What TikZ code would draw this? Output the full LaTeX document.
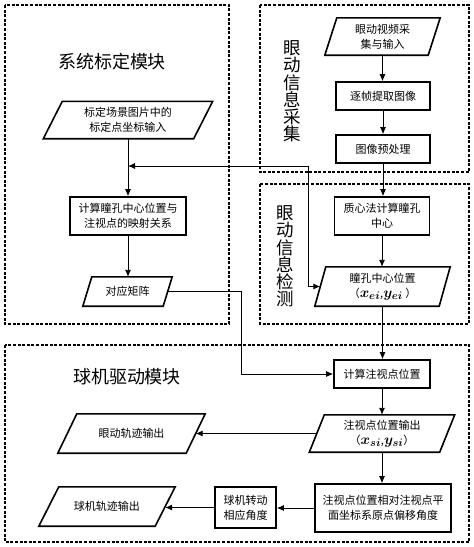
\documentclass[tikz,border=0pt]{standalone}
\usepackage{fontspec}
\usepackage{amsmath}
\setmainfont{Noto Sans CJK SC}
\usetikzlibrary{arrows.meta}
\tikzset{
  box/.style={draw=black, line width=1.6pt, rectangle, inner sep=0pt, align=center,
    font=\fontsize{11}{15}\selectfont},
  paraline/.style={draw=black, line width=1.6pt, line join=miter},
  para/.style={rectangle, inner sep=0pt, align=center, font=\fontsize{11}{15}\selectfont,
    append after command={\pgfextra{\draw[paraline]
      ([xshift=#1]\tikzlastnode.north west) -- ([xshift=#1]\tikzlastnode.north east)
      -- ([xshift=-#1]\tikzlastnode.south east) -- ([xshift=-#1]\tikzlastnode.south west) -- cycle;}}},
  arr/.style={line width=0.9pt, -{Latex[length=7pt,width=6pt]}},
  arrb/.style={line width=0.9pt, {Latex[length=7pt,width=6pt]}-{Latex[length=7pt,width=6pt]}},
  module/.style={draw=black, line width=1.4pt, dash pattern=on 3pt off 1.6pt},
  htitle/.style={font=\fontsize{18}{18}\selectfont, inner sep=0pt},
  vtitle/.style={font=\fontsize{17.5}{17.2}\selectfont, align=center, inner sep=0pt},
}
\newcommand{\bmth}[1]{{\fontsize{15}{15}\selectfont\boldmath$#1$}}
\begin{document}
\begin{tikzpicture}[x=1pt,y=-1pt]
\useasboundingbox (0,0) rectangle (474,547);
% module frames
\draw[module] (5,5) rectangle (229,324);
\draw[module] (260,5) rectangle (469,172);
\draw[module] (260,184) rectangle (469,324);
\draw[module] (5,345) rectangle (469,542);
% titles
\node[htitle] (t1) at (112,62) {系统标定模块};
\node[vtitle] (t2) at (292,91.5) {眼\\动\\信\\息\\采\\集};
\node[vtitle] (t3) at (285,256.5) {眼\\动\\信\\息\\检\\测};
\node[htitle] (t4) at (127,377) {球机驱动模块};
% left column
\node[para=9.5pt, minimum width=150pt, minimum height=37pt] (calin) at (128,120) {标定场景图片中的\\标定点坐标输入};
\node[box, minimum width=116pt, minimum height=38pt] (map) at (128,216) {计算瞳孔中心位置与\\注视点的映射关系};
\node[para=4.5pt, minimum width=80pt, minimum height=29pt] (mat) at (127.5,291.5) {对应矩阵};
% right column
\node[para=6pt, minimum width=103pt, minimum height=37pt] (vid) at (382.5,36.5) {眼动视频采\\集与输入};
\node[box, minimum width=94pt, minimum height=28pt] (frame) at (383,96) {逐帧提取图像};
\node[box, minimum width=94pt, minimum height=28pt] (pre) at (383,149) {图像预处理};
\node[box, minimum width=95pt, minimum height=38pt] (cent) at (382,216) {质心法计算瞳孔\\中心};
\node[para=5.5pt, minimum width=124pt, minimum height=39pt] (pupil) at (382.5,286.5) {瞳孔中心位置\\（\bmth{x_{ei}},\bmth{y_{ei}} ）};
\node[box, minimum width=96pt, minimum height=28pt] (calc) at (382,374) {计算注视点位置};
\node[para=7.5pt, minimum width=130pt, minimum height=37pt] (gaze) at (382,433.5) {注视点位置输出\\（\bmth{x_{si}},\bmth{y_{si}}）};
\node[box, minimum width=136pt, minimum height=48pt] (off) at (383,508) {注视点位置相对注视点平\\面坐标系原点偏移角度};
\node[box, minimum width=61pt, minimum height=41pt] (rot) at (245.5,507.5) {球机转动\\相应角度};
\node[para=9.5pt, minimum width=128pt, minimum height=39pt] (eyetr) at (131.5,433.5) {眼动轨迹输出};
\node[para=10pt, minimum width=116pt, minimum height=39pt] (balltr) at (107,506.5) {球机轨迹输出};
% helper coordinates
\coordinate (j1) at (241,0);
\coordinate (j2) at (308,166);
% connectors
\draw[arr] (calin.south) -- (calin.south |- map.north);
\draw[arr] (map.south) -- (map.south |- mat.north);
\draw[arr] (vid.south) -- (vid.south |- frame.north);
\draw[arr] (frame.south) -- (frame.south |- pre.north);
\draw[arr] (pre.south) -- (pre.south |- cent.north);
\draw[arr] (cent.south) -- (cent.south |- pupil.north);
\draw[arr] (pupil.south) -- (pupil.south |- calc.north);
\draw[arr] (calc.south) -- (calc.south |- gaze.north);
\draw[arr] (gaze.south) -- (gaze.south |- off.north);
\draw[arr] (gaze.west) -- (eyetr.east);
\draw[arr] (off.west) -- (off.west -| rot.east);
\draw[arr] (rot.west) -- (rot.west -| balltr.east);
\draw[arr] (mat.east) -- (mat.east -| j1) -- (j1 |- calc.west) -- (calc.west);
\draw[arrb] (j2 -| calin.south) -- (j2) -- (j2 |- pupil.west) -- (pupil.west);
\end{tikzpicture}
\end{document}
